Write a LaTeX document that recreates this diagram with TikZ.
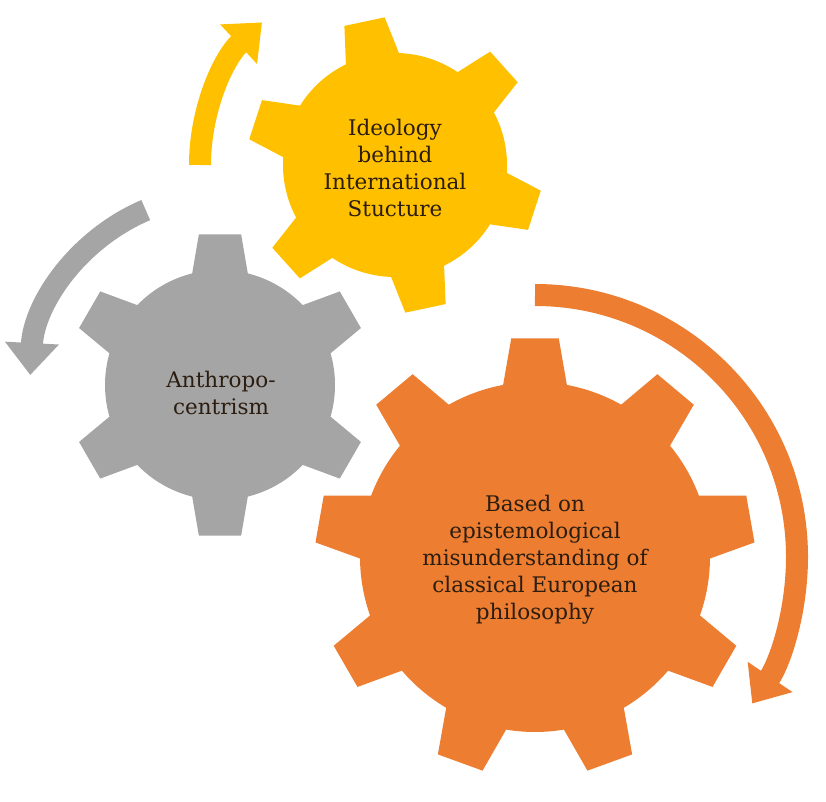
\documentclass[tikz,border=0pt]{standalone}
\usepackage{fontspec}
\setmainfont{DejaVu Serif}
\usetikzlibrary{arrows.meta,calc}
\definecolor{gor}{HTML}{ED7D31}
\definecolor{ggr}{HTML}{A5A5A5}
\definecolor{gye}{HTML}{FFC000}
\definecolor{gtx}{HTML}{2B1D10}
\newcommand{\mygear}[8]{% center, n, r, R, start, roothalf, tiphalf, color
  \fill[#8] ($(#1)+(#5-#6:#3)$)
  \foreach \k in {1,...,#2}{
    -- ($(#1)+({#5+360*(\k-1)/#2-#7}:#4)$)
    -- ($(#1)+({#5+360*(\k-1)/#2+#7}:#4)$)
    -- ($(#1)+({#5+360*(\k-1)/#2+#6}:#3)$)
    arc[start angle={#5+360*(\k-1)/#2+#6}, end angle={#5+360*\k/#2-#6}, radius=#3]
  } -- cycle;}
\begin{document}
\begin{tikzpicture}[x=1pt,y=1pt,
  lbl/.style={text=gtx,align=center,font=\fontsize{21.5}{27}\selectfont},
  arr/.style={line width=22pt,-{Triangle[length=32pt,width=52pt]}}]
\useasboundingbox (0,0) rectangle (826,801);
\coordinate (co) at (535,244);
\coordinate (cg) at (220,416);
\coordinate (cy) at (395,636);
\mygear{co}{9}{175}{220}{90}{10.5}{6.2}{gor}
\mygear{cg}{6}{115}{152}{90}{14}{8}{ggr}
\mygear{cy}{6}{112}{148}{42}{14}{8}{gye}
\draw[arr,gye] ($(cy)+(180:195)$) arc[start angle=180,end angle=133,radius=195];
\draw[arr,ggr] ($(cg)+(113:190)$) arc[start angle=113,end angle=177,radius=190];
\draw[arr,gor] ($(co)+(90:262)$) arc[start angle=90,end angle=-34,radius=262];
\node[lbl] (ty) at (395,633) {Ideology\\behind\\International\\Stucture};
\node[lbl] (tg) at (221,408) {Anthropo-\\centrism};
\node[lbl] (to) at (535,241) {Based on\\epistemological\\misunderstanding of\\classical European\\philosophy};
\end{tikzpicture}
\end{document}
